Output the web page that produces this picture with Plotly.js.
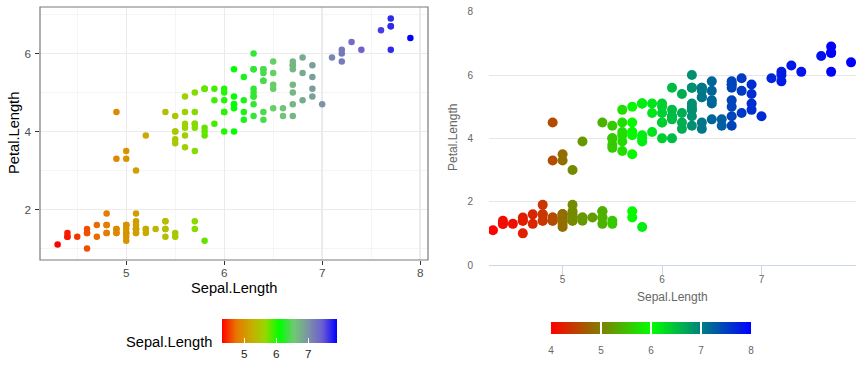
<!DOCTYPE html>
<html>
<head>
<meta charset="utf-8">
<script src="https://cdn.plot.ly/plotly-3.0.1.min.js"></script>
<style>html,body{margin:0;padding:0;background:#fff;}#chart{width:867px;height:377px;}</style>
</head>
<body>
<div id="chart"></div>
<script>
// iris: Sepal.Length and Petal.Length
const sepalLength = [
5.1,4.9,4.7,4.6,5.0,5.4,4.6,5.0,4.4,4.9,5.4,4.8,4.8,4.3,5.8,5.7,5.4,5.1,5.7,5.1,5.4,5.1,4.6,5.1,4.8,5.0,5.0,5.2,5.2,4.7,4.8,5.4,5.2,5.5,4.9,5.0,5.5,4.9,4.4,5.1,5.0,4.5,4.4,5.0,5.1,4.8,5.1,4.6,5.3,5.0,
7.0,6.4,6.9,5.5,6.5,5.7,6.3,4.9,6.6,5.2,5.0,5.9,6.0,6.1,5.6,6.7,5.6,5.8,6.2,5.6,5.9,6.1,6.3,6.1,6.4,6.6,6.8,6.7,6.0,5.7,5.5,5.5,5.8,6.0,5.4,6.0,6.7,6.3,5.6,5.5,5.5,6.1,5.8,5.0,5.6,5.7,5.7,6.2,5.1,5.7,
6.3,5.8,7.1,6.3,6.5,7.6,4.9,7.3,6.7,7.2,6.5,6.4,6.8,5.7,5.8,6.4,6.5,7.7,7.7,6.0,6.9,5.6,7.7,6.3,6.7,7.2,6.2,6.1,6.4,7.2,7.4,7.9,6.4,6.3,6.1,7.7,6.3,6.4,6.0,6.9,6.7,6.9,5.8,6.8,6.7,6.7,6.3,6.5,6.2,5.9];
const petalLength = [
1.4,1.4,1.3,1.5,1.4,1.7,1.4,1.5,1.4,1.5,1.5,1.6,1.4,1.1,1.2,1.5,1.3,1.4,1.7,1.5,1.7,1.5,1.0,1.7,1.9,1.6,1.6,1.5,1.4,1.6,1.6,1.5,1.5,1.4,1.5,1.2,1.3,1.4,1.3,1.5,1.3,1.3,1.3,1.6,1.9,1.4,1.6,1.4,1.5,1.4,
4.7,4.5,4.9,4.0,4.6,4.5,4.7,3.3,4.6,3.9,3.5,4.2,4.0,4.7,3.6,4.4,4.5,4.1,4.5,3.9,4.8,4.0,4.9,4.7,4.3,4.4,4.8,5.0,4.5,3.5,3.8,3.7,3.9,5.1,4.5,4.5,4.7,4.4,4.1,4.0,4.4,4.6,4.0,3.3,4.2,4.2,4.2,4.3,3.0,4.1,
6.0,5.1,5.9,5.6,5.8,6.6,4.5,6.3,5.8,6.1,5.1,5.3,5.5,5.0,5.1,5.3,5.5,6.7,6.9,5.0,5.7,4.9,6.7,4.9,5.7,6.0,4.8,4.9,5.6,5.8,6.1,6.4,5.6,5.1,5.6,6.1,5.6,5.5,4.8,5.4,5.6,5.1,5.1,5.9,5.7,5.2,5.0,5.2,5.4,5.1];

const leftXTicks = [5, 6, 7, 8];
const leftYTicks = [2, 4, 6];
const leftBarTicks = [5, 6, 7];
const rightXTicks = [5, 6, 7];
const rightYTicks = [0, 2, 4, 6, 8];
const rightBarTicks = [4, 5, 6, 7, 8];
const rightBarSeparators = [5, 6, 7];

// ggplot gradientn(red, green, blue) - Lab interpolation sampled
const ggScale = [[0,'#ff0000'],[0.125,'#e87700'],[0.25,'#c8ab00'],[0.375,'#98d700'],[0.5,'#00ff00'],
                 [0.625,'#6fc972'],[0.75,'#7d93a6'],[0.875,'#6c5bd3'],[1,'#0000ff']];
const rgbScale = [[0,'#ff0000'],[0.5,'#00ff00'],[1,'#0000ff']];

// highcharter colorize: colour by empirical CDF of the values
const n = sepalLength.length;
const ecdfRank = sepalLength.map(v => sepalLength.filter(w => w <= v).length / n);

const W = 867, H = 377;
const px = x => x / W;
const py = y => 1 - y / H;
const FONT = 'Liberation Sans, Arial, sans-serif';

const rightBarBase = {
  orientation: 'h', x: px(551), xanchor: 'left', y: py(321.7), yanchor: 'top',
  len: 200, lenmode: 'pixels', thickness: 12, thicknessmode: 'pixels',
  xpad: 0, ypad: 0, outlinewidth: 0
};

const traces = [
  {
    type: 'scatter', mode: 'markers', x: sepalLength, y: petalLength, xaxis: 'x', yaxis: 'y',
    hoverinfo: 'none',
    marker: {
      size: 6.5, color: sepalLength, colorscale: ggScale, cmin: 4.3, cmax: 7.9, showscale: true,
      colorbar: {
        orientation: 'h', x: px(222), xanchor: 'left', y: py(319), yanchor: 'top',
        len: 115, lenmode: 'pixels', thickness: 24, thicknessmode: 'pixels',
        xpad: 0, ypad: 0, outlinewidth: 0,
        tickvals: leftBarTicks, ticks: 'inside', ticklen: 5, tickcolor: '#ffffff', tickwidth: 1,
        tickfont: {family: FONT, size: 11.7, color: '#1a1a1a'}
      }
    }
  },
  {
    type: 'scatter', mode: 'markers', x: sepalLength, y: petalLength, xaxis: 'x2', yaxis: 'y2',
    hoverinfo: 'none',
    marker: {size: 10, color: ecdfRank, colorscale: rgbScale, cmin: 0, cmax: 1, showscale: false}
  },
  {
    type: 'scatter', mode: 'markers', x: [null, null], y: [null, null], xaxis: 'x2', yaxis: 'y2',
    hoverinfo: 'none', showlegend: false,
    marker: {
      size: 1, color: [4, 8], colorscale: rgbScale, cmin: 4, cmax: 8, showscale: true,
      colorbar: Object.assign({}, rightBarBase, {
        tickvals: rightBarTicks, ticks: 'outside', ticklen: 8, tickcolor: 'rgba(255,255,255,0)', tickwidth: 1,
        tickfont: {family: FONT, size: 10, color: '#666666'}
      })
    }
  },
  {
    type: 'scatter', mode: 'markers', x: [null, null], y: [null, null], xaxis: 'x2', yaxis: 'y2',
    hoverinfo: 'none', showlegend: false,
    marker: {
      size: 1, color: [4, 8], colorscale: rgbScale, cmin: 4, cmax: 8, showscale: true,
      colorbar: Object.assign({}, rightBarBase, {
        tickvals: rightBarSeparators, ticks: 'inside', ticklen: 12, tickcolor: '#ffffff', tickwidth: 2,
        showticklabels: false
      })
    }
  }
];

const layout = {
  width: W, height: H,
  margin: {l: 0, r: 0, t: 0, b: 0},
  paper_bgcolor: '#ffffff', plot_bgcolor: '#ffffff',
  showlegend: false,
  font: {family: FONT},
  xaxis: {
    domain: [px(40), px(428)], range: [4.12, 8.08], anchor: 'y', automargin: false,
    tickvals: leftXTicks, ticks: 'outside', ticklen: 3.7, tickcolor: '#333333', tickwidth: 1,
    tickfont: {size: 11.7, color: '#4d4d4d'}, ticklabelstandoff: -2,
    showgrid: true, gridcolor: '#ebebeb', gridwidth: 1.4, zeroline: false, showline: false,
    minor: {tickvals: [4.5, 5.5, 6.5, 7.5], showgrid: true, gridcolor: '#f2f2f2', gridwidth: 0.8}
  },
  yaxis: {
    domain: [py(260), py(7)], range: [0.705, 7.195], anchor: 'x', automargin: false,
    tickvals: leftYTicks, ticks: 'outside', ticklen: 3.7, tickcolor: '#333333', tickwidth: 1,
    tickfont: {size: 11.7, color: '#4d4d4d'}, ticklabelstandoff: 2,
    showgrid: true, gridcolor: '#ebebeb', gridwidth: 1.4, zeroline: false, showline: false,
    minor: {tickvals: [1, 3, 5, 7], showgrid: true, gridcolor: '#f2f2f2', gridwidth: 0.8}
  },
  xaxis2: {
    domain: [px(489), px(856)], range: [4.26, 7.95], anchor: 'y2', automargin: false,
    tickvals: rightXTicks, ticks: 'outside', ticklen: 10, tickcolor: '#ccd6eb', tickwidth: 1,
    tickfont: {size: 10, color: '#666666'}, ticklabelstandoff: -5,
    showgrid: false, zeroline: false, showline: true, linecolor: '#ccd6eb', linewidth: 1
  },
  yaxis2: {
    domain: [py(265), py(11.7)], range: [0, 8], anchor: 'x2', automargin: false,
    tickvals: rightYTicks, ticks: '', ticklabelstandoff: 15,
    tickfont: {size: 10, color: '#666666'},
    showgrid: true, gridcolor: '#e6e6e6', gridwidth: 1, zeroline: false, showline: false
  },
  shapes: [
    {type: 'rect', xref: 'x domain', yref: 'y domain', x0: 0, x1: 1, y0: 0, y1: 1,
     line: {color: '#7a7a7a', width: 1.2}, fillcolor: 'rgba(0,0,0,0)', layer: 'above'}
  ],
  annotations: [
    {text: 'Sepal.Length', xref: 'paper', yref: 'paper', x: px(234), y: py(288), xanchor: 'center', yanchor: 'middle',
     showarrow: false, font: {size: 14.67, color: '#000000'}},
    {text: 'Petal.Length', xref: 'paper', yref: 'paper', x: px(13.5), y: py(133.5), xanchor: 'center', yanchor: 'middle',
     textangle: -90, showarrow: false, font: {size: 14.67, color: '#000000'}},
    {text: 'Sepal.Length', xref: 'paper', yref: 'paper', x: px(214), y: py(342), xanchor: 'right', yanchor: 'middle',
     showarrow: false, font: {size: 14.67, color: '#000000'}},
    {text: 'Sepal.Length', xref: 'paper', yref: 'paper', x: px(672), y: py(297), xanchor: 'center', yanchor: 'middle',
     showarrow: false, font: {size: 12, color: '#666666'}},
    {text: 'Petal.Length', xref: 'paper', yref: 'paper', x: px(453), y: py(138), xanchor: 'center', yanchor: 'middle',
     textangle: -90, showarrow: false, font: {size: 12, color: '#666666'}}
  ]
};

Plotly.newPlot('chart', traces, layout, {displayModeBar: false, staticPlot: true});
</script>
</body>
</html>
